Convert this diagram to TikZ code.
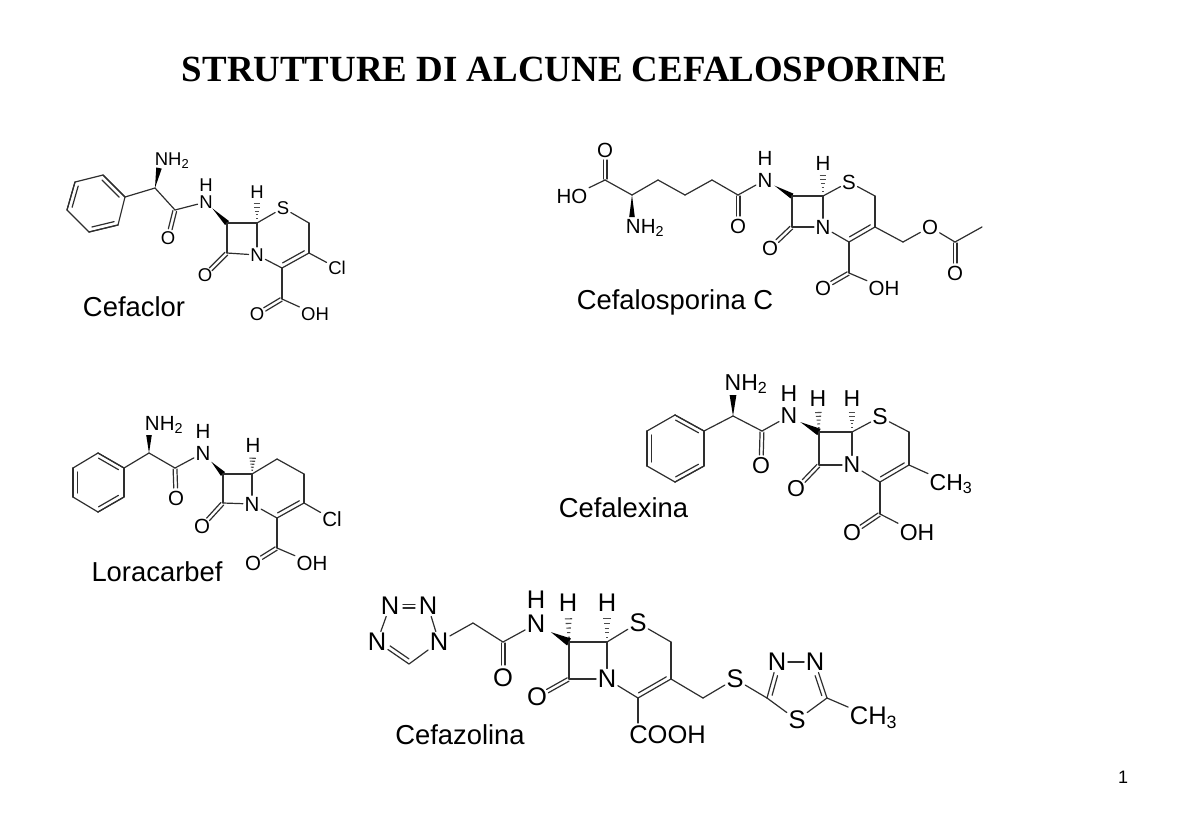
\documentclass[tikz,border=0pt]{standalone}
\usepackage{fontspec}
\setmainfont{Liberation Sans}
\newfontfamily\serifbold{Liberation Serif}
\usetikzlibrary{calc}
\definecolor{ink}{gray}{0.18}
\newcommand\fs[1]{\fontsize{#1}{#1}\selectfont}
\tikzset{
  bond/.style={draw=ink,line width=1.2pt,line cap=round},
  atom/.style={inner sep=1.5pt,text=black},
  caption/.style={inner sep=0pt,text=black,font=\fs{27.4}},
  wedgefill/.style={fill=black},
  hashline/.style={draw=black!70,line width=1.1pt},
}
% plain bond
\newcommand\bd[2]{\draw[bond] (#1) -- (#2);}
% centred double bond: a, b, shorten at a, shorten at b
\newcommand\cdb[4]{%
  \draw[bond,shorten <=#3pt,shorten >=#4pt] ($(#1)!1.9pt!90:(#2)$) -- ($(#2)!1.9pt!-90:(#1)$);
  \draw[bond,shorten <=#3pt,shorten >=#4pt] ($(#1)!1.9pt!-90:(#2)$) -- ($(#2)!1.9pt!90:(#1)$);}
% double bond with inner line: a, b, side angle, shorten at a, shorten at b
\newcommand\idb[5]{%
  \draw[bond] (#1) -- (#2);
  \draw[bond,shorten <=#4pt,shorten >=#5pt] ($(#1)!4.2pt!#3:(#2)$) -- ($(#2)!4.2pt!-#3:(#1)$);}
% solid wedge: narrow at a, wide at b; shorten at a, shorten at b, half width
\newcommand\wdg[5]{%
  \coordinate (wA) at ($(#1)!#3pt!(#2)$);
  \coordinate (wB) at ($(#2)!#4pt!(#1)$);
  \fill[wedgefill] (wA) -- ($(wB)!#5pt!90:(wA)$) -- ($(wB)!#5pt!-90:(wA)$) -- cycle;}
% hashed wedge: narrow at a, wide at b
\newcommand\hsh[5]{%
  \coordinate (wA) at ($(#1)!#3pt!(#2)$);
  \coordinate (wB) at ($(#2)!#4pt!(#1)$);
  \foreach \f in {0.12,0.32,0.52,0.72,0.92}{%
    \pgfmathsetmacro\hw{0.5+\f*#5}
    \coordinate (wP) at ($(wA)!\f!(wB)$);
    \draw[hashline] ($(wP)!\hw pt!90:(wB)$) -- ($(wP)!\hw pt!-90:(wB)$);}}
\newcommand\at[3]{\coordinate (#1) at (#2,#3);}
\begin{document}
\begin{tikzpicture}[x=1pt,y=-1pt]
\useasboundingbox (0,0) rectangle (1200,831);

\node[inner sep=0pt,font={\serifbold\bfseries\fs{36.9}}] (title) at (564.5,69) {STRUTTURE DI ALCUNE CEFALOSPORINE};
\node[inner sep=0pt,font=\fs{18}] (pagenum) at (1123,777) {1};

% ---------- Cefaclor
\begin{scope}[atom/.append style={font=\fs{18.5}}]
\node[atom] (aNH2) at (172,161) {NH\textsubscript{2}};
\at{aTip}{159}{168}
\at{aCa}{155}{188}
\at{aP1}{125}{197}\at{aP2}{103}{175}\at{aP3}{75}{182}\at{aP4}{67}{210}\at{aP5}{89}{232}\at{aP6}{118}{225}
\at{aCO}{175}{210}
\node[atom] (aO1) at (168,238) {O};
\node[atom] (aN1) at (206,202) {N};
\node[atom] (aH1) at (206,185) {H};
\at{aC7}{227}{223}\at{aC6}{257}{223}
\node[atom] (aH2) at (257,192) {H};
\node[atom] (aS) at (283,208) {S};
\at{aC2}{309}{223}\at{aC3}{309}{253}\at{aC4}{282}{268}
\node[atom] (aN) at (257,255) {N};
\at{aC8}{227}{253}
\node[atom] (aO2) at (205,275) {O};
\node[atom] (aCl) at (337,268) {Cl};
\at{aCc}{282}{299}
\node[atom] (aO3) at (257,314) {O};
\node[atom] (aOH) at (315,314) {OH};
\end{scope}
\wdg{aCa}{aTip}{0}{0}{2.8}
\bd{aCa}{aP1}\bd{aP1}{aP6}\bd{aP6}{aP5}\bd{aP5}{aP4}\bd{aP4}{aP3}\bd{aP3}{aP2}\bd{aP2}{aP1}
\idb{aP2}{aP1}{-90}{3}{4}\idb{aP4}{aP3}{-90}{4}{3}\idb{aP6}{aP5}{-90}{3}{4}
\bd{aCa}{aCO}\cdb{aCO}{aO1}{1}{9}\bd{aCO}{aN1}
\wdg{aN1}{aC7}{9}{0}{2.8}
\bd{aC7}{aC6}\bd{aC6}{aN}\bd{aN}{aC8}\bd{aC8}{aC7}
\hsh{aC6}{aH2}{2}{10}{3}
\bd{aC6}{aS}\bd{aS}{aC2}\bd{aC2}{aC3}\idb{aC3}{aC4}{-90}{3}{3}\bd{aC4}{aN}
\cdb{aC8}{aO2}{1}{8}\bd{aC3}{aCl}\bd{aC4}{aCc}\cdb{aCc}{aO3}{1}{9}\bd{aCc}{aOH}
\node[caption] (aName) at (134,307) {Cefaclor};

% ---------- Cefalosporina C
\begin{scope}[atom/.append style={font=\fs{20.5}}]
\node[atom] (bO1) at (605,150) {O};
\at{bCc}{605}{180}
\node[atom] (bHO) at (572,196) {HO};
\at{bCa}{632}{195}
\node[atom] (bNH2) at (645,228) {NH\textsubscript{2}};
\at{bTip}{632}{217}
\at{bC1}{658}{180}\at{bC2}{685}{195}\at{bC3}{712}{180}\at{bCO}{738}{195}
\node[atom] (bO2) at (738,226) {O};
\node[atom] (bN1) at (765,180) {N};
\node[atom] (bH1) at (765,158) {H};
\at{bC7}{792}{196}\at{bC6}{823}{196}
\node[atom] (bH2) at (823,163) {H};
\node[atom] (bS) at (849,182) {S};
\at{bC5}{875}{196}\at{bC30}{875}{227}\at{bC40}{849}{242}
\node[atom] (bN) at (823,227) {N};
\at{bC8}{792}{227}
\node[atom] (bO3) at (770,248) {O};
\at{bCd}{849}{273}
\node[atom] (bO4) at (823,288) {O};
\node[atom] (bOH) at (884,288) {OH};
\at{bCh}{903}{242}
\node[atom] (bO5) at (930,227) {O};
\at{bAc}{955}{242}\at{bMe}{982}{227}
\node[atom] (bO6) at (955,273) {O};
\end{scope}
\cdb{bCc}{bO1}{1}{10}\bd{bCc}{bHO}\bd{bCc}{bCa}
\wdg{bCa}{bTip}{0}{0}{2.8}
\bd{bCa}{bC1}\bd{bC1}{bC2}\bd{bC2}{bC3}\bd{bC3}{bCO}\cdb{bCO}{bO2}{1}{10}\bd{bCO}{bN1}
\wdg{bN1}{bC7}{11}{0}{2.8}
\bd{bC7}{bC6}\bd{bC6}{bN}\bd{bN}{bC8}\bd{bC8}{bC7}
\hsh{bC6}{bH2}{2}{11}{3}
\bd{bC6}{bS}\bd{bS}{bC5}\bd{bC5}{bC30}\idb{bC30}{bC40}{-90}{3}{3}\bd{bC40}{bN}
\cdb{bC8}{bO3}{1}{10}\bd{bC40}{bCd}\cdb{bCd}{bO4}{1}{10}\bd{bCd}{bOH}
\bd{bC30}{bCh}\bd{bCh}{bO5}\bd{bO5}{bAc}\bd{bAc}{bMe}\cdb{bAc}{bO6}{1}{10}
\node[caption] (bName) at (675,302) {Cefalosporina C};

% ---------- Loracarbef
\begin{scope}[atom/.append style={font=\fs{20.5}}]
\node[atom] (cNH2) at (164,425) {NH\textsubscript{2}};
\at{cTip}{149}{435}
\at{cCa}{149}{453}
\at{cP1}{124}{468}\at{cP2}{98}{453}\at{cP3}{73}{468}\at{cP4}{73}{497}\at{cP5}{98}{512}\at{cP6}{124}{497}
\at{cCO}{175}{468}
\node[atom] (cO1) at (176,498) {O};
\node[atom] (cN1) at (203,453) {N};
\node[atom] (cH1) at (203,431) {H};
\at{cC7}{223}{474}\at{cC6}{252}{474}
\node[atom] (cH2) at (253,445) {H};
\at{cC5}{277}{459}\at{cC9}{304}{474}\at{cC3}{304}{503}\at{cC4}{277}{518}
\node[atom] (cN) at (252,504) {N};
\at{cC8}{223}{503}
\node[atom] (cO2) at (202,526) {O};
\node[atom] (cCl) at (332,519) {Cl};
\at{cCc}{277}{548}
\node[atom] (cO3) at (253,563) {O};
\node[atom] (cOH) at (312,563) {OH};
\end{scope}
\wdg{cCa}{cTip}{0}{0}{2.8}
\bd{cCa}{cP1}\bd{cP1}{cP6}\bd{cP6}{cP5}\bd{cP5}{cP4}\bd{cP4}{cP3}\bd{cP3}{cP2}\bd{cP2}{cP1}
\idb{cP2}{cP1}{-90}{3}{4}\idb{cP4}{cP3}{-90}{4}{4}\idb{cP6}{cP5}{-90}{4}{3}
\bd{cCa}{cCO}\cdb{cCO}{cO1}{1}{10}\bd{cCO}{cN1}
\wdg{cN1}{cC7}{12}{0}{2.8}
\bd{cC7}{cC6}\bd{cC6}{cN}\bd{cN}{cC8}\bd{cC8}{cC7}
\hsh{cC6}{cH2}{2}{12}{3}
\bd{cC6}{cC5}\bd{cC5}{cC9}\bd{cC9}{cC3}\idb{cC3}{cC4}{-90}{3}{3}\bd{cC4}{cN}
\cdb{cC8}{cO2}{1}{9}\bd{cC3}{cCl}\bd{cC4}{cCc}\cdb{cCc}{cO3}{1}{10}\bd{cCc}{cOH}
\node[caption] (cName) at (157,572) {Loracarbef};

% ---------- Cefalexina
\begin{scope}[atom/.append style={font=\fs{23}}]
\node[atom] (dNH2) at (746,384) {NH\textsubscript{2}};
\at{dTip}{733}{395}
\at{dCa}{733}{416}
\at{dP1}{704}{431}\at{dP2}{675}{415}\at{dP3}{647}{431}\at{dP4}{647}{466}\at{dP5}{675}{482}\at{dP6}{704}{466}
\at{dCO}{762}{431}
\node[atom] (dO1) at (761,466) {O};
\node[atom] (dN1) at (789,416) {N};
\node[atom] (dH1) at (789,394) {H};
\at{dC7}{819}{432}\at{dC6}{852}{432}
\node[atom] (dH2) at (818,399) {H};
\node[atom] (dH3) at (852,399) {H};
\node[atom] (dS) at (880,417) {S};
\at{dC5}{909}{432}\at{dC3}{909}{465}\at{dC4}{880}{482}
\node[atom] (dN) at (852,465) {N};
\at{dC8}{819}{465}
\node[atom] (dO2) at (796,489) {O};
\node[atom] (dMe) at (951,484) {CH\textsubscript{3}};
\at{dCc}{880}{514}
\node[atom] (dO3) at (852,533) {O};
\node[atom] (dOH) at (917,533) {OH};
\end{scope}
\wdg{dCa}{dTip}{0}{0}{3.4}
\bd{dCa}{dP1}\bd{dP1}{dP6}\bd{dP6}{dP5}\bd{dP5}{dP4}\bd{dP4}{dP3}\bd{dP3}{dP2}\bd{dP2}{dP1}
\idb{dP2}{dP1}{-90}{3}{4}\idb{dP4}{dP3}{-90}{4}{4}\idb{dP6}{dP5}{-90}{4}{3}
\bd{dCa}{dCO}\cdb{dCO}{dO1}{1}{11}\bd{dCO}{dN1}
\wdg{dN1}{dC7}{13}{0}{3.6}
\bd{dC7}{dC6}\bd{dC6}{dN}\bd{dN}{dC8}\bd{dC8}{dC7}
\hsh{dC7}{dH2}{2}{12}{3}
\hsh{dC6}{dH3}{2}{12}{3}
\bd{dC6}{dS}\bd{dS}{dC5}\bd{dC5}{dC3}\idb{dC3}{dC4}{-90}{3}{3}\bd{dC4}{dN}
\cdb{dC8}{dO2}{1}{11}\bd{dC3}{dMe}\bd{dC4}{dCc}\cdb{dCc}{dO3}{1}{11}\bd{dCc}{dOH}
\node[caption] (dName) at (623.5,508) {Cefalexina};

% ---------- Cefazolina
\begin{scope}[atom/.append style={font=\fs{25.5}}]
\node[atom] (eN2) at (390,606) {N};
\node[atom] (eN3) at (428,606) {N};
\node[atom] (eN4) at (439,642) {N};
\node[atom] (eN1) at (377,642) {N};
\at{eCH}{409}{664}
\at{eC1}{473}{623}\at{eCO}{503}{642}
\node[atom] (eO1) at (503,678) {O};
\node[atom] (eN5) at (536,624) {N};
\node[atom] (eH1) at (536,600) {H};
\at{eC7}{569}{642}\at{eC6}{607}{642}
\node[atom] (eH2) at (568,603) {H};
\node[atom] (eH3) at (607,603) {H};
\node[atom] (eS) at (638,623) {S};
\at{eC5}{671}{642}\at{eC3}{671}{679}\at{eC4}{638}{698}
\node[atom] (eN) at (607,679) {N};
\at{eC8}{569}{679}
\node[atom] (eO2) at (537,697) {O};
\node[atom] (eCOOH) at (667.5,735) {COOH};
\coordinate (eCt) at (638,723);
\at{eCh}{703}{698}
\node[atom] (eS2) at (735,679) {S};
\at{eC9}{767}{698}
\node[atom] (eN6) at (777,662) {N};
\node[atom] (eN7) at (815,662) {N};
\at{eC10}{827}{698}
\node[atom] (eS3) at (797,720) {S};
\node[atom] (eMe) at (873.5,718) {CH\textsubscript{3}};
\end{scope}
\cdb{eN2}{eN3}{13}{13}\bd{eN3}{eN4}\bd{eN2}{eN1}
\idb{eN1}{eCH}{90}{13}{3}\bd{eCH}{eN4}
\bd{eN4}{eC1}\bd{eC1}{eCO}\cdb{eCO}{eO1}{1}{13}\bd{eCO}{eN5}
\wdg{eN5}{eC7}{17}{0}{4}
\bd{eC7}{eC6}\bd{eC6}{eN}\bd{eN}{eC8}\bd{eC8}{eC7}
\hsh{eC7}{eH2}{2}{14}{3.4}
\hsh{eC6}{eH3}{2}{14}{3.4}
\bd{eC6}{eS}\bd{eS}{eC5}\bd{eC5}{eC3}\idb{eC3}{eC4}{-90}{3}{3}\bd{eC4}{eN}
\cdb{eC8}{eO2}{1}{12}\bd{eC4}{eCt}\bd{eC3}{eCh}\bd{eCh}{eS2}\bd{eS2}{eC9}
\idb{eC9}{eN6}{-90}{4}{13}\bd{eN6}{eN7}\idb{eC10}{eN7}{90}{4}{13}\bd{eC9}{eS3}\bd{eS3}{eC10}\bd{eC10}{eMe}
\node[caption] (eName) at (460,735) {Cefazolina};
\end{tikzpicture}
\end{document}
